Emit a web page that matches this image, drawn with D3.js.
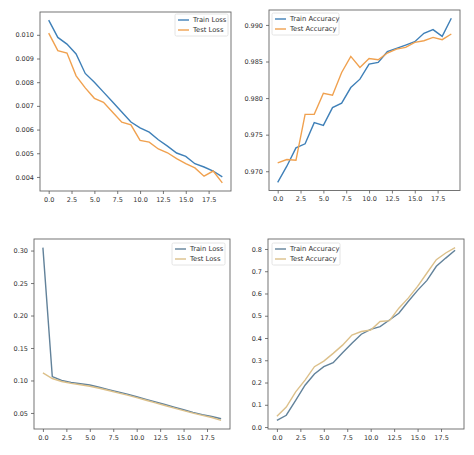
<!DOCTYPE html>
<html>
<head>
<meta charset="utf-8">
<script src="https://cdn.jsdelivr.net/npm/d3@7"></script>
<style>
  body { margin: 0; background: #fff; }
  svg text { font-family: "DejaVu Sans", sans-serif; fill: #333; }
</style>
</head>
<body>
<div id="chart"></div>
<script>
const epochs = [0,1,2,3,4,5,6,7,8,9,10,11,12,13,14,15,16,17,18,19];
const xTicks = [0, 2.5, 5, 7.5, 10, 12.5, 15, 17.5];

// run 1 (top row)
const trainLoss1 = [0.01062,0.00989,0.00961,0.00919,0.00837,0.00800,0.00758,0.00716,0.00674,0.00632,
                    0.00607,0.00589,0.00557,0.00530,0.00501,0.00487,0.00456,0.00442,0.00425,0.00400];
const testLoss1  = [0.01007,0.00933,0.00923,0.00827,0.00776,0.00732,0.00715,0.00673,0.00631,0.00620,
                    0.00554,0.00547,0.00518,0.00502,0.00477,0.00456,0.00438,0.00403,0.00425,0.00375];
const trainAcc1  = [0.96849,0.97069,0.97320,0.97375,0.97664,0.97627,0.97870,0.97930,0.98144,0.98259,
                    0.98465,0.98487,0.98634,0.98680,0.98725,0.98771,0.98886,0.98936,0.98844,0.99092];
const testAcc1   = [0.97114,0.97160,0.97150,0.97778,0.97778,0.98066,0.98039,0.98350,0.98570,0.98419,
                    0.98542,0.98524,0.98616,0.98670,0.98693,0.98762,0.98784,0.98830,0.98799,0.98876];

// run 2 (bottom row)
const trainLoss2 = [0.3045,0.1060,0.1000,0.0970,0.0950,0.0930,0.0895,0.0860,0.0825,0.0790,
                    0.0750,0.0710,0.0670,0.0630,0.0590,0.0550,0.0510,0.0475,0.0445,0.0410];
const testLoss2  = [0.1117,0.1030,0.0985,0.0955,0.0935,0.0912,0.0880,0.0845,0.0810,0.0775,
                    0.0735,0.0695,0.0655,0.0615,0.0575,0.0535,0.0497,0.0462,0.0430,0.0386];
const trainAcc2  = [0.030,0.053,0.120,0.188,0.238,0.271,0.289,0.334,0.376,0.417,
                    0.439,0.451,0.481,0.511,0.564,0.614,0.659,0.722,0.759,0.794];
const testAcc2   = [0.048,0.090,0.158,0.211,0.271,0.296,0.331,0.368,0.413,0.429,
                    0.436,0.474,0.478,0.534,0.579,0.632,0.692,0.752,0.782,0.806];

const lossLabels = ["Train Loss", "Test Loss"];
const accLabels = ["Train Accuracy", "Test Accuracy"];

const width = 474;
const height = 455;

const svg = d3.select("#chart")
              .append("svg")
              .attr("width", width)
              .attr("height", height);

function drawPanel(box, train, test, yTicks, fmt, labels, legend, colours){
  const all = train.concat(test);
  const lo = d3.min(all), hi = d3.max(all);
  const pad = (hi - lo) * 0.05;

  const x = d3.scaleLinear().domain([-0.95, 19.95]).range([box.left, box.right]);
  const y = d3.scaleLinear().domain([lo - pad, hi + pad]).range([box.bottom, box.top]);

  const g = svg.append("g");

  const line = d3.line()
                 .x((d, i) => x(epochs[i]))
                 .y(d => y(d));

  g.append("path")
   .datum(train)
   .attr("d", line)
   .attr("fill", "none")
   .attr("stroke", colours[0])
   .attr("stroke-width", 1.4);

  g.append("path")
   .datum(test)
   .attr("d", line)
   .attr("fill", "none")
   .attr("stroke", colours[1])
   .attr("stroke-width", 1.4);

  g.append("rect")
   .attr("x", box.left)
   .attr("y", box.top)
   .attr("width", box.right - box.left)
   .attr("height", box.bottom - box.top)
   .attr("fill", "none")
   .attr("stroke", "#666")
   .attr("stroke-width", 0.9);

  const xAxis = g.append("g")
                 .attr("transform", `translate(0,${box.bottom})`)
                 .call(d3.axisBottom(x).tickValues(xTicks).tickFormat(d3.format(".1f")).tickSize(3).tickPadding(3));
  const yAxis = g.append("g")
                 .attr("transform", `translate(${box.left},0)`)
                 .call(d3.axisLeft(y).tickValues(yTicks).tickFormat(d3.format(fmt)).tickSize(3).tickPadding(3));

  [xAxis, yAxis].forEach(a => {
    a.select(".domain").remove();
    a.selectAll("line").attr("stroke", "#555").attr("stroke-width", 0.8);
    a.selectAll("text").attr("font-size", 6.5).attr("fill", "#333").attr("font-family", "DejaVu Sans, sans-serif");
  });

  const lg = g.append("g").attr("transform", `translate(${legend.x},${legend.y})`);
  lg.append("rect")
    .attr("width", legend.w)
    .attr("height", 22)
    .attr("rx", 1.5)
    .attr("fill", "#fff")
    .attr("stroke", "#ddd")
    .attr("stroke-width", 0.8);

  labels.forEach((lab, i) => {
    lg.append("line")
      .attr("x1", 3).attr("x2", 14)
      .attr("y1", 6 + i * 10).attr("y2", 6 + i * 10)
      .attr("stroke", colours[i])
      .attr("stroke-width", 1.4);
    lg.append("text")
      .attr("x", 18)
      .attr("y", 6 + i * 10)
      .attr("dy", "0.35em")
      .attr("font-size", 6.8)
      .text(lab);
  });
}

const topColours = ["#3f80b8", "#f0a14f"];
const botColours = ["#62829a", "#dcc08a"];

drawPanel({left: 40, right: 231, top: 12, bottom: 191}, trainLoss1, testLoss1,
          [0.004,0.005,0.006,0.007,0.008,0.009,0.010], ".3f", lossLabels,
          {x: 175, y: 14, w: 53}, topColours);

drawPanel({left: 269, right: 460, top: 10, bottom: 190.5}, trainAcc1, testAcc1,
          [0.970,0.975,0.980,0.985,0.990], ".3f", accLabels,
          {x: 272, y: 13, w: 67}, topColours);

drawPanel({left: 34, right: 230, top: 239, bottom: 429}, trainLoss2, testLoss2,
          [0.05,0.10,0.15,0.20,0.25,0.30], ".2f", lossLabels,
          {x: 172, y: 243, w: 53}, botColours);

drawPanel({left: 268, right: 464, top: 239, bottom: 429}, trainAcc2, testAcc2,
          [0.0,0.1,0.2,0.3,0.4,0.5,0.6,0.7,0.8], ".1f", accLabels,
          {x: 272, y: 243, w: 68}, botColours);
</script>
</body>
</html>
